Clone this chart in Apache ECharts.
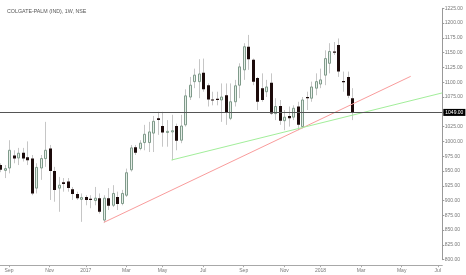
<!DOCTYPE html>
<html>
<head>
<meta charset="utf-8">
<script src="https://cdn.jsdelivr.net/npm/echarts@6/dist/echarts.min.js"></script>
<style>
html,body{margin:0;padding:0;background:#fff;}
#c{width:466px;height:275px;}
</style>
</head>
<body>
<div id="c"></div>
<script>
// Weekly candles, first bar week of 2016-08-22
const startDate = '2016-08-22';
const weekCount = 99; // axis runs to July 2018

const opens  = [960,951,955,976,972,981,973,971,921,955,971,988,950,921,931,932,919,911,902,906,903,900,904,867,904,892,906,895,909,952,990,988,998,998,1014,1039,1026,1015,1016,1026,1002,1028,1075,1101,1101,1116,1095,1071,1072,1070,1078,1039,1067,1095,1121,1160,1138,1107,1090,1084,1099,1047,1060,1035,1043,1041,1059,1025,1075,1073,1090,1097,1112,1132,1152,1163,1102,1109,1073];
const highs  = [963,960,1002,985,989,989,1000,977,963,977,1033,994,957,940,938,938,923,915,912,909,909,923,912,909,921,926,915,918,954,994,994,1002,1028,1033,1043,1050,1050,1036,1045,1030,1045,1088,1109,1123,1139,1140,1098,1084,1084,1098,1098,1098,1104,1132,1166,1180,1140,1109,1115,1104,1115,1073,1070,1053,1059,1061,1067,1075,1084,1101,1115,1123,1154,1166,1168,1174,1118,1118,1090];
const lows   = [948,938,946,963,960,966,960,909,912,935,957,901,898,881,915,915,901,901,864,892,887,892,878,863,884,889,884,892,906,949,977,985,985,982,982,1011,991,991,968,985,997,1025,1070,1090,1073,1084,1059,1061,1061,1033,1028,1036,1059,1073,1104,1121,1095,1053,1067,1075,1045,1036,1028,1019,1025,1036,1019,1022,1053,1067,1078,1090,1095,1115,1146,1109,1084,1073,1036];
const closes = [952,954,985,971,980,971,968,912,956,971,985,950,918,926,928,921,911,904,905,901,901,904,881,904,891,912,894,912,947,989,981,997,1012,1016,1034,1036,1015,1017,1018,1001,1026,1077,1095,1112,1114,1088,1071,1069,1070,1075,1048,1067,1094,1126,1160,1139,1101,1067,1070,1092,1047,1059,1035,1041,1039,1056,1028,1070,1073,1092,1101,1104,1140,1152,1150,1118,1100,1077,1049];

const yTicks = {min: 800, max: 1225, step: 25};
const lastPrice = 1049;
const redTrend   = [['2017-01-30', 863], ['2018-05-21', 1110]];
const greenTrend = [['2017-05-15', 968.5], ['2018-07-09', 1082]];
const titleText = 'COLGATE-PALM (IND), 1W, NSE';
const monthNames = ['Jan','Feb','Mar','Apr','May','Jun','Jul','Aug','Sep','Oct','Nov','Dec'];

const categories = [];
{
  const t0 = Date.parse(startDate + 'T00:00:00Z');
  for (let i = 0; i < weekCount; i++) {
    categories.push(new Date(t0 + i * 7 * 86400000).toISOString().slice(0, 10));
  }
}
const candleData = opens.map((o, i) => [i, o, closes[i], lows[i], highs[i]]);

function showLabel(index, value) {
  const d = new Date(value + 'T00:00:00Z');
  return d.getUTCDate() <= 7 && d.getUTCMonth() % 2 === 0;
}

function renderCandle(params, api) {
  const i = api.value(0);
  const o = api.value(1), c = api.value(2), l = api.value(3), h = api.value(4);
  const pH = api.coord([i, h]), pL = api.coord([i, l]);
  const pO = api.coord([i, o]), pC = api.coord([i, c]);
  const cx = Math.round(pH[0]) + 0.5;
  const up = c >= o;
  const top = Math.min(pO[1], pC[1]);
  const bot = Math.max(pO[1], pC[1]);
  const children = [{
    type: 'line',
    shape: {x1: cx, y1: pH[1], x2: cx, y2: pL[1]},
    style: {stroke: '#c6c6c6', lineWidth: 1}
  }];
  if (up) {
    children.push({
      type: 'rect',
      shape: {x: cx - 1, y: top, width: 2, height: Math.max(bot - top, 1)},
      style: {fill: '#e6eee8', stroke: '#7f9a8a', lineWidth: 1}
    });
  } else {
    children.push({
      type: 'rect',
      shape: {x: cx - 1.5, y: top, width: 3, height: Math.max(bot - top, 1.2)},
      style: {fill: '#1c0b0b'}
    });
  }
  return {type: 'group', children: children};
}

const chart = echarts.init(document.getElementById('c'), null, {renderer: 'canvas'});
chart.setOption({
  animation: false,
  backgroundColor: '#ffffff',
  title: {
    text: titleText, left: 2, top: 4,
    textStyle: {fontSize: 5.3, fontWeight: 'normal', color: '#555', fontFamily: 'Liberation Sans'}
  },
  grid: {left: 0, right: 23.7, top: 8.3, bottom: 15.3},
  xAxis: {
    type: 'category',
    data: categories,
    boundaryGap: false,
    offset: 5.5,
    axisLine: {lineStyle: {color: '#a8a8a8', width: 1}},
    axisTick: {interval: showLabel, length: 2, lineStyle: {color: '#a8a8a8'}},
    axisLabel: {
      interval: showLabel, fontSize: 5, color: '#777', margin: 2.5,
      fontFamily: 'Liberation Sans',
      formatter: function (v) {
        const d = new Date(v + 'T00:00:00Z');
        return d.getUTCMonth() === 0 ? String(d.getUTCFullYear()) : monthNames[d.getUTCMonth()];
      }
    },
    splitLine: {show: false}
  },
  yAxis: {
    type: 'value',
    position: 'right',
    min: yTicks.min, max: yTicks.max, interval: yTicks.step,
    axisLine: {show: true, lineStyle: {color: '#999', width: 1}},
    axisTick: {show: true, length: 2, lineStyle: {color: '#999'}},
    axisLabel: {
      fontSize: 5, color: '#777', margin: 2.5, fontFamily: 'Liberation Sans',
      formatter: v => v.toFixed(2)
    },
    splitLine: {show: false}
  },
  series: [
    {
      type: 'custom',
      renderItem: renderCandle,
      data: candleData,
      encode: {x: 0, y: [1, 2, 3, 4]},
      clip: true,
      silent: true
    },
    {
      type: 'line',
      data: redTrend,
      symbol: 'none',
      lineStyle: {color: '#f99c9c', width: 1},
      silent: true,
      z: 3
    },
    {
      type: 'line',
      data: greenTrend,
      symbol: 'none',
      lineStyle: {color: '#a2ee9a', width: 1},
      silent: true,
      z: 3,
      markLine: {
        silent: true,
        symbol: ['none', 'none'],
        lineStyle: {color: '#555', width: 1, type: 'solid'},
        label: {
          position: 'end', distance: 1,
          formatter: lastPrice.toFixed(2),
          backgroundColor: '#000', color: '#fff',
          fontSize: 5, padding: [1, 2, 1, 2], fontFamily: 'Liberation Sans'
        },
        data: [{yAxis: lastPrice}]
      }
    }
  ]
});
</script>
</body>
</html>
